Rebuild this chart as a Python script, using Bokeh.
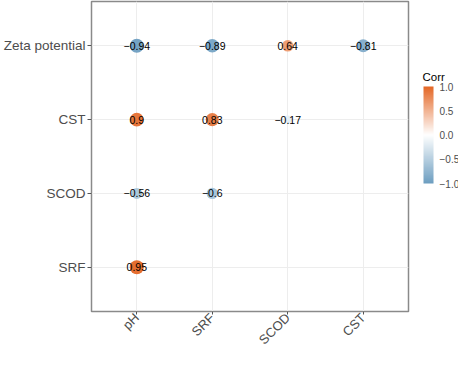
import math
import numpy as np
from bokeh.plotting import figure
from bokeh.models import (ColumnDataSource, Range1d, FixedTicker, LinearColorMapper,
                          ColorBar, CustomJSTickFormatter, Label)
from bokeh.core.properties import value
from bokeh.embed import file_html
from bokeh.resources import INLINE

# ---- data ----
x_vars = ["pH", "SRF", "SCOD", "CST"]
y_vars = ["SRF", "SCOD", "CST", "Zeta potential"]
cell_x = ["pH", "SRF", "SCOD", "CST", "pH", "SRF", "SCOD", "pH", "SRF", "pH"]
cell_y = ["Zeta potential", "Zeta potential", "Zeta potential", "Zeta potential",
          "CST", "CST", "CST", "SCOD", "SCOD", "SRF"]
corr = [-0.94, -0.89, 0.64, -0.81, 0.90, 0.83, -0.17, -0.56, -0.60, 0.95]
cbar_ticks = [-1.0, -0.5, 0.0, 0.5, 1.0]
legend_title = "Corr"

# ---- palette: low blue -> white -> high orange ----
def hex2rgb(h):
    h = h.lstrip("#")
    return np.array([int(h[i:i + 2], 16) for i in (0, 2, 4)], dtype=float)

low_c, mid_c, high_c = hex2rgb("#6D9EC1"), hex2rgb("#FFFFFF"), hex2rgb("#E46726")
pal = []
for t in np.linspace(-1, 1, 256):
    if t < 0:
        c = mid_c + (low_c - mid_c) * (-t)
    else:
        c = mid_c + (high_c - mid_c) * t
    pal.append("#%02x%02x%02x" % tuple(int(round(v)) for v in c))
mapper = LinearColorMapper(palette=pal, low=-1, high=1)

xi = [x_vars.index(v) + 1 for v in cell_x]
yi = [y_vars.index(v) + 1 for v in cell_y]
absr = [abs(r) for r in corr]
amin, amax = min(absr), max(absr)
sizes = [8.0 + 6.0 * (a - amin) / (amax - amin) for a in absr]
labels = [("%g" % r).replace("-", "\u2212") for r in corr]

src = ColumnDataSource(dict(x=xi, y=yi, r=corr, size=sizes, label=labels))

p = figure(width=458, height=355, output_backend="svg", toolbar_location=None,
           x_range=Range1d(0.4, 4.6), y_range=Range1d(0.4, 4.6),
           min_border_left=90, min_border_right=50, min_border_top=1, min_border_bottom=39)
p.background_fill_color = "white"
p.outline_line_color = "#8a8a8a"
p.outline_line_width = 1.5

for ax in (p.xaxis[0], p.yaxis[0]):
    ax.axis_line_color = None
    ax.major_tick_line_color = "#555555"
    ax.major_tick_out = 4
    ax.major_tick_in = 0
    ax.minor_tick_line_color = None
    ax.major_label_text_font = "Liberation Sans"
    ax.major_label_text_font_size = "13.5px"
    ax.major_label_text_color = "#4D4D4D"
    ax.major_label_standoff = 2

p.xaxis.major_label_text_font_size = "13px"
p.xaxis.major_label_standoff = 1
p.xaxis.major_tick_out = 3
p.xaxis.ticker = FixedTicker(ticks=[1, 2, 3, 4])
p.xaxis.major_label_overrides = {i + 1: v for i, v in enumerate(x_vars)}
p.xaxis.major_label_orientation = math.pi / 4
p.yaxis.ticker = FixedTicker(ticks=[1, 2, 3, 4])
p.yaxis.major_label_overrides = {i + 1: v for i, v in enumerate(y_vars)}

p.xgrid.grid_line_color = "#EDEDED"
p.ygrid.grid_line_color = "#EDEDED"
p.xgrid.grid_line_width = 1
p.ygrid.grid_line_width = 1

p.scatter("x", "y", source=src, size="size", marker="circle",
          fill_color={"field": "r", "transform": mapper}, line_color=None)
p.text("x", "y", text="label", source=src, text_align="center", text_baseline="middle",
       text_font=value("Liberation Sans"), text_font_size="10.5px", text_color="black")

cb_x, cb_y, cb_h = 332, 128, 97
cb = ColorBar(color_mapper=mapper, orientation="vertical", width=10, height=cb_h,
              location=(cb_x, cb_y), title=None,
              ticker=FixedTicker(ticks=cbar_ticks),
              formatter=CustomJSTickFormatter(code="return tick.toFixed(1).replace('-', '\u2212');"),
              major_label_text_font="Liberation Sans", major_label_text_font_size="10px",
              major_label_text_color="#4D4D4D", major_tick_line_color=None,
              bar_line_color=None, background_fill_color=None, border_line_color=None,
              padding=0, label_standoff=6)
p.add_layout(cb)

p.add_layout(Label(x=14, y=cb_y + cb_h + 4, x_units="screen", y_units="screen",
                   text=legend_title, text_font="Liberation Sans", text_font_size="11.5px",
                   text_color="black", text_baseline="bottom", text_align="left"), "right")

open("out.html", "w").write(file_html(p, INLINE))
